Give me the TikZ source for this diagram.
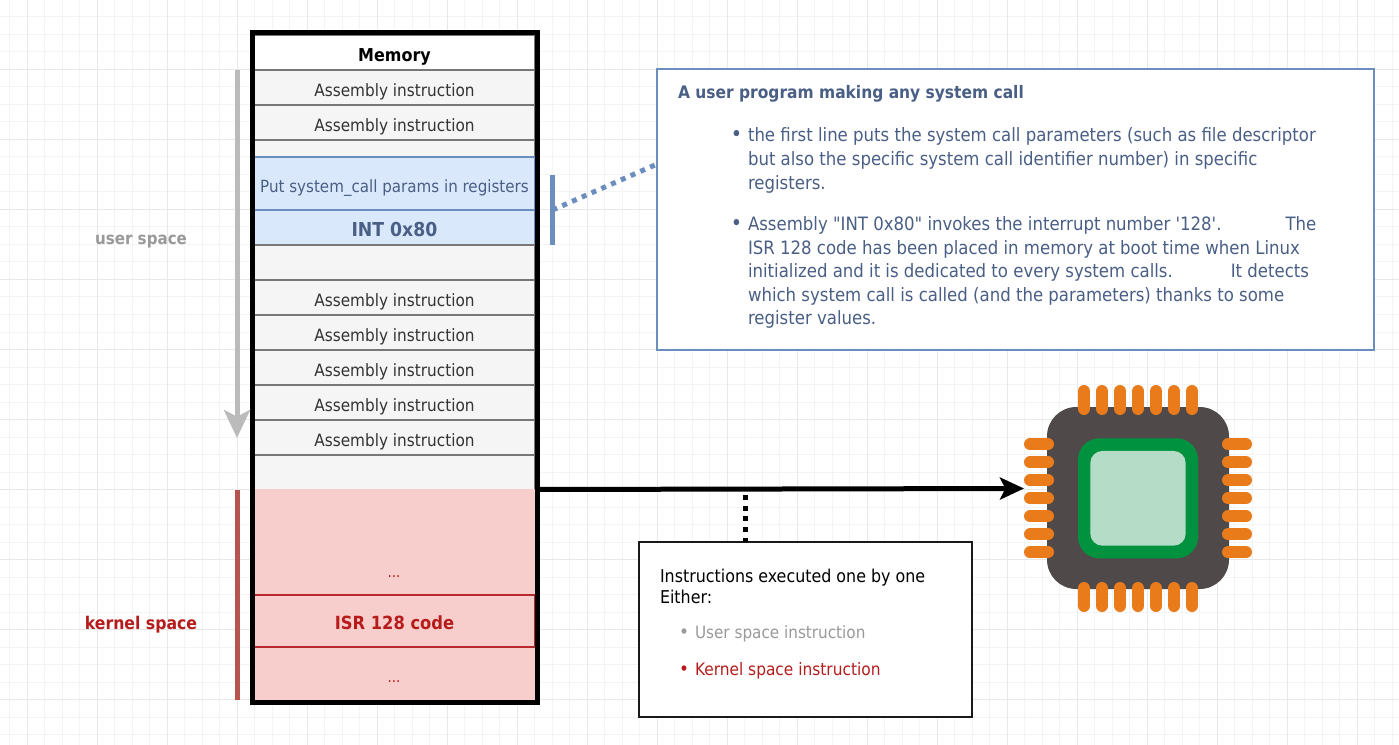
\documentclass[tikz,border=0pt]{standalone}
\usepackage{fontspec}
\setmainfont{DejaVu Sans Condensed}[Ligatures=TeXOff]
\usetikzlibrary{arrows.meta}
\definecolor{gridmin}{HTML}{F4F4F4}
\definecolor{gridmaj}{HTML}{E8E8E8}
\definecolor{cellgrey}{HTML}{F5F5F5}
\definecolor{cellline}{HTML}{777777}
\definecolor{cellblue}{HTML}{DAE8FC}
\definecolor{lineblue}{HTML}{6C8EBF}
\definecolor{textblue}{HTML}{4A5F85}
\definecolor{cellred}{HTML}{F8CECC}
\definecolor{linered}{HTML}{B8292F}
\definecolor{barred}{HTML}{B85450}
\definecolor{textred}{HTML}{B71C1C}
\definecolor{textgrey}{HTML}{999999}
\definecolor{arrowgrey}{HTML}{BBBBBB}
\definecolor{chipbody}{HTML}{4F4A49}
\definecolor{chipgreen}{HTML}{00923F}
\definecolor{chipcore}{HTML}{B5DCC6}
\definecolor{chippin}{HTML}{E97B1B}
\newcommand{\fsz}[2]{\fontsize{#1}{#2}\selectfont}
\newcommand{\dotitem}[2]{\leavevmode\llap{\textcolor{#1}{\fontsize{#2}{#2}\selectfont•}\hspace{4.4pt}}}
\tikzset{
  x=0.75pt,y=-0.75pt,
  every node/.style={inner sep=0pt,outer sep=0pt,font=\fsz{12.75}{17}},
  cell/.style={rectangle,minimum width=210.75pt,minimum height=26.25pt,anchor=north west,line width=1.5pt,text=black!80,text height=12.8pt,text depth=0pt},
  grey cell/.style={cell,draw=cellline,fill=cellgrey},
  blue cell/.style={cell,draw=lineblue,fill=cellblue,text=textblue},
  red cell/.style={cell,fill=cellred,text=textred},
  txt/.style={anchor=north west,align=left},
  side/.style={anchor=base},
  pin/.style={draw=chippin,line width=9pt,line cap=round},
  frame/.style={draw=black,line width=3.75pt},
  dotted link/.style={line width=3.75pt,dash pattern=on 3.75pt off 4.25pt},
}
\begin{document}
\begin{tikzpicture}
\path[use as bounding box,fill=white] (0,0) rectangle (1399,745);
% grid
\begin{scope}[line width=0.75pt]
\foreach \k in {0,...,80} {
  \draw[gridmin] ({9.5+17.5*\k},0) -- ({9.5+17.5*\k},745);
}
\foreach \k in {0,...,43} {
  \draw[gridmin] (0,{-0.5+17.5*\k}) -- (1399,{-0.5+17.5*\k});
}
\foreach \k in {0,...,20} {
  \draw[gridmaj] ({27+70*\k},0) -- ({27+70*\k},745);
}
\foreach \k in {0,...,10} {
  \draw[gridmaj] (0,{-0.5+70*\k}) -- (1399,{-0.5+70*\k});
}
\end{scope}
% memory column
\node[grey cell,fill=white,text=black,font=\fsz{13.3}{17}\bfseries] (head) at (254,35) {Memory};
\node[grey cell] (a1) at (254,70) {Assembly instruction};
\node[grey cell] (a2) at (254,105) {Assembly instruction};
\node[grey cell] (gap1) at (254,140) {};
\node[blue cell,minimum height=39.75pt,font=\fsz{12.6}{17}] (params) at (254,157) {Put system\_call params in registers};
\node[blue cell,font=\fsz{14.4}{17}\bfseries] (int) at (254,210) {INT 0x80};
\node[grey cell] (gap2) at (254,245) {};
\node[grey cell] (a3) at (254,280) {Assembly instruction};
\node[grey cell] (a4) at (254,315) {Assembly instruction};
\node[grey cell] (a5) at (254,350) {Assembly instruction};
\node[grey cell] (a6) at (254,385) {Assembly instruction};
\node[grey cell] (a7) at (254,420) {Assembly instruction};
\node[grey cell] (gap3) at (254,455) {};
\node[red cell,minimum height=79.5pt] (red1) at (254,489) {};
\node[red cell,minimum height=39.75pt] (red2) at (254,647) {};
\node[red cell,draw=linered,minimum height=39.375pt,font=\fsz{13.6}{17}\bfseries] (isr) at (254,594.5) {ISR 128 code};
\node[side,text=textred,font=\fsz{11.25}{17}] (dots1) at (394,577) {...};
\node[side,text=textred,font=\fsz{11.25}{17}] (dots2) at (394,682) {...};
\node[frame,rectangle,minimum width=213.75pt,minimum height=502.5pt,anchor=north west] (mem) at (252.5,32.5) {};
% side markers
\coordinate (ustart) at (237,70);
\coordinate (uend) at (237,438);
\draw[arrowgrey,line width=3.75pt,-{Stealth[length=21pt,width=19.5pt,inset=5pt]}] (ustart) -- (uend);
\node[side,text=textgrey,font=\fsz{12.6}{17}\bfseries] (ulabel) at (141,245) {user space};
\node[rectangle,fill=barred,minimum width=3.75pt,minimum height=157.5pt,anchor=north] (kbar) at (237,490) {};
\node[side,text=textred,font=\fsz{13.1}{17}\bfseries] (klabel) at (141,629) {kernel space};
% info box
\node[rectangle,draw=lineblue,line width=1.5pt,fill=white,minimum width=537.75pt,minimum height=210pt,anchor=north west] (info) at (657,69.5) {};
\node[rectangle,fill=lineblue,minimum width=3.75pt,minimum height=52.5pt,anchor=north] (bbar) at (552.5,175) {};
\coordinate (callout) at (655,165);
\draw[lineblue,dotted link] (bbar.center) -- (callout);
\node[anchor=base west,text=textblue,font=\fsz{12.9}{17}\bfseries] (infotitle) at (678,99) {A user program making any system call};
\node[txt,text=textblue,font=\fsz{13.8}{17.8}] (p1) at (748,128) {\dotitem{textblue}{16}the first line puts the system call parameters (such as file descriptor\\but also the specific system call identifier number) in specific\\registers.};
\node[txt,text=textblue,font=\fsz{13.8}{17.6}] (p2) at (748,217) {\dotitem{textblue}{16}Assembly "INT 0x80" invokes the interrupt number '128'.\hspace{48pt}The\\ISR 128 code has been placed in memory at boot time when Linux\\initialized and it is dedicated to every system calls.\hspace{43.5pt}It detects\\which system call is called (and the parameters) thanks to some\\register values.};
% execution box and arrows
\node[rectangle,draw=black!90,line width=1.5pt,fill=white,minimum width=249.75pt,minimum height=131.25pt,anchor=north west] (exec) at (639,542) {};
\coordinate (busin) at (745,495);
\draw[black,dotted link] (busin) -- (exec.north -| busin);
\coordinate (memout) at (538,489.5);
\coordinate (chipin) at (1024,488.5);
\draw[black,line width=3.75pt,-{Stealth[length=18pt,width=16.5pt,inset=4pt]}] (memout) -- (chipin);
\node[txt,text=black,font=\fsz{13.25}{16}] (e1) at (660,569) {Instructions executed one by one\\Either:};
\node[side,anchor=base west,text=textgrey,font=\fsz{12.7}{17}] (e2) at (695,638) {\dotitem{textgrey}{14}User space instruction};
\node[side,anchor=base west,text=textred,font=\fsz{12.85}{17}] (e3) at (695,675) {\dotitem{textred}{14}Kernel space instruction};
% chip
\node[rectangle,rounded corners=22pt,fill=chipbody,minimum width=136.5pt,minimum height=136.5pt] (chip) at (1138,498) {};
\node[rectangle,rounded corners=16pt,fill=chipgreen,minimum width=90pt,minimum height=90pt] (die) at (1138,498.3) {};
\node[rectangle,rounded corners=9pt,fill=chipcore,minimum width=71.5pt,minimum height=71pt] (core) at (1138,498.3) {};
\foreach \c in {1084,1102,1120,1138,1156,1174,1192} {
  \draw[pin] (\c,391) -- (\c,409);
  \draw[pin] (\c,588) -- (\c,606);
}
\foreach \c in {444.3,462.3,480.3,498.3,516.3,534.3,552.3} {
  \draw[pin] (1030,\c) -- (1048,\c);
  \draw[pin] (1228,\c) -- (1246,\c);
}
\end{tikzpicture}
\end{document}
